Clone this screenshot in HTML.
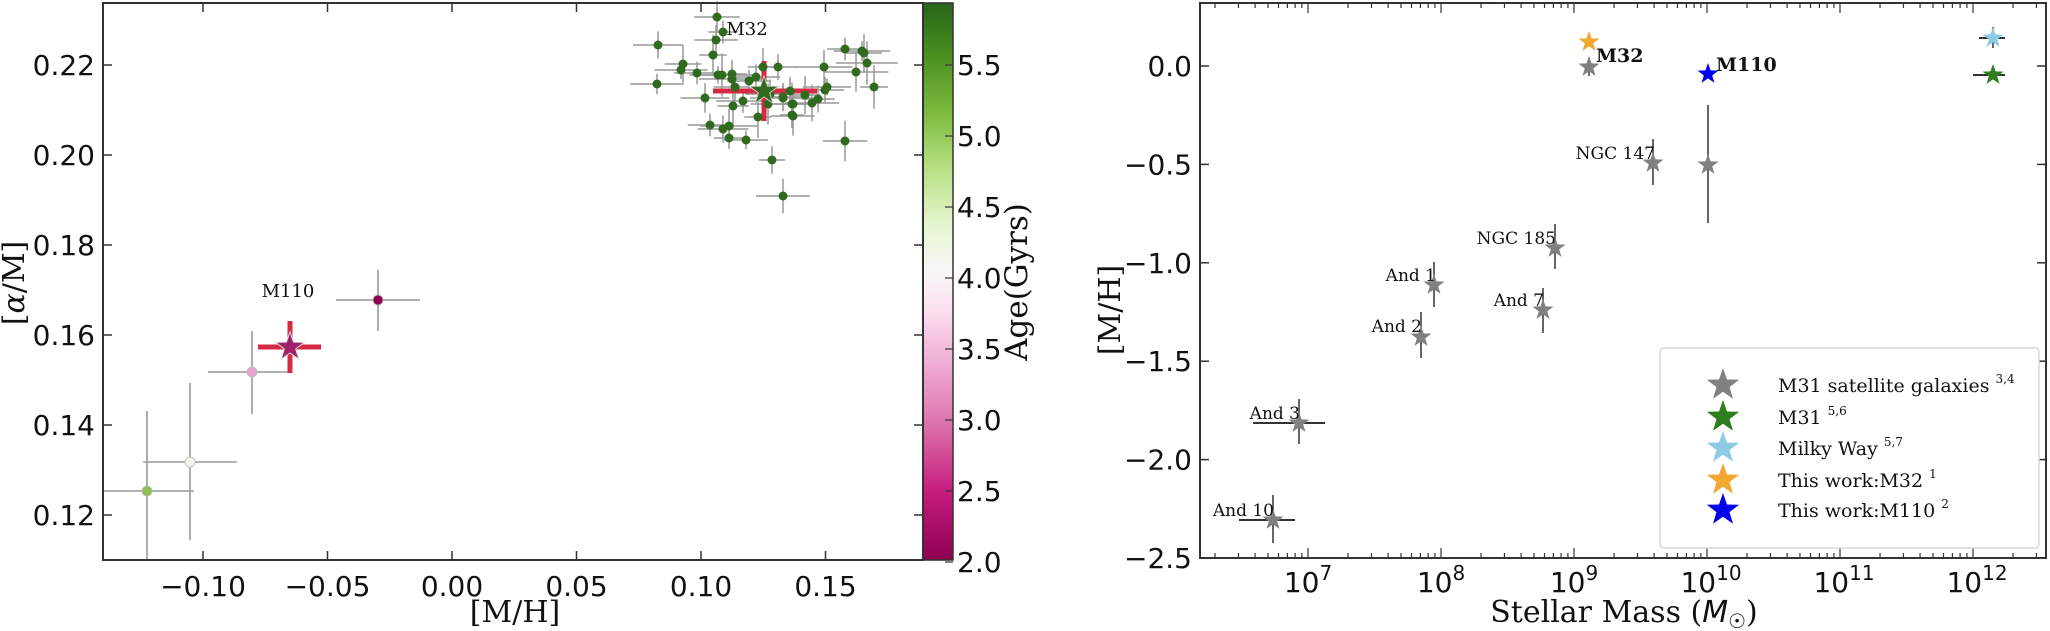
<!DOCTYPE html>
<html><head><meta charset="utf-8"><style>
html,body{margin:0;padding:0;background:#fff;}
svg{display:block}
.tk{font-family:"DejaVu Sans","Liberation Sans",sans-serif;font-size:28px;fill:#111}
.sf{font-family:"DejaVu Serif","Liberation Serif",serif;fill:#111}
</style></head><body>
<svg id="s" width="2050" height="631" viewBox="0 0 2050 631" xmlns="http://www.w3.org/2000/svg">
<defs>
<linearGradient id="cb" x1="0" y1="1" x2="0" y2="0">
<stop offset="0" stop-color="#8e0152"/>
<stop offset="0.12" stop-color="#c51b7d"/>
<stop offset="0.25" stop-color="#de77ae"/>
<stop offset="0.37" stop-color="#f1b6da"/>
<stop offset="0.45" stop-color="#fde0ef"/>
<stop offset="0.52" stop-color="#f7f7f7"/>
<stop offset="0.6" stop-color="#e6f5d0"/>
<stop offset="0.7" stop-color="#b8e186"/>
<stop offset="0.8" stop-color="#7fbc41"/>
<stop offset="0.9" stop-color="#4d9221"/>
<stop offset="1" stop-color="#276419"/>
</linearGradient>
</defs>
<g id="g"></g>
<text class="sf" x="515" y="622" font-size="30" text-anchor="middle">[M/H]</text>
<text class="sf" font-size="30" text-anchor="middle" transform="translate(24,283) rotate(-90)">[<tspan font-style="italic">α</tspan>/M]</text>
<text class="sf" font-size="31" text-anchor="middle" transform="translate(1027,282) rotate(-90)">Age(Gyrs)</text>
<text class="sf" x="288" y="297" font-size="18" text-anchor="middle">M110</text>
<text class="sf" x="747" y="35" font-size="18" text-anchor="middle">M32</text>
<text class="sf" font-size="30" text-anchor="middle" transform="translate(1120,310) rotate(-90)">[M/H]</text>
<text class="sf" x="1624" y="622" font-size="30" text-anchor="middle">Stellar Mass (<tspan font-style="italic" font-family="DejaVu Sans">M</tspan><tspan font-size="20" dy="6">☉</tspan><tspan dy="-6">)</tspan></text>
<text class="sf" x="1596" y="62" font-size="19" font-weight="bold">M32</text>
<text class="sf" x="1716" y="71" font-size="19" font-weight="bold">M110</text>
<g class="sf" font-size="17" text-anchor="end">
<text x="1655" y="159">NGC 147</text>
<text x="1556" y="244">NGC 185</text>
<text x="1436" y="281">And 1</text>
<text x="1544" y="306">And 7</text>
<text x="1422" y="332">And 2</text>
<text x="1300" y="419">And 3</text>
<text x="1274" y="516">And 10</text>
</g>
</svg>
<script>
var g=document.getElementById('g'),NS='http://www.w3.org/2000/svg';
function el(t,a){var e=document.createElementNS(NS,t);for(var k in a)e.setAttribute(k,a[k]);g.appendChild(e);return e;}
function line(x1,y1,x2,y2,c,w){el('line',{x1:x1,y1:y1,x2:x2,y2:y2,stroke:c,'stroke-width':w});}
function star(x,y,r,c,st){var p=[];for(var i=0;i<10;i++){var a=-Math.PI/2+i*Math.PI/5,rr=i%2?r*0.4:r;p.push((x+rr*Math.cos(a)).toFixed(1)+','+(y+rr*Math.sin(a)).toFixed(1));}
 el('polygon',{points:p.join(' '),fill:c,stroke:st||'none','stroke-width':1});}
function txt(x,y,s,cls,anc){var e=el('text',{x:x,y:y,'class':cls,'text-anchor':anc||'middle'});e.textContent=s;return e;}
var L=103,R=923,T=3,B=560;
function lx(v){return 452+v*2490;} function ly(v){return 515-(v-0.12)*4500;}
el('rect',{x:L,y:T,width:R-L,height:B-T,fill:'#fff'});
el('rect',{x:923,y:T,width:30,height:B-T,fill:'url(#cb)',stroke:'#333','stroke-width':1.5});
for(var a=2;a<=5.51;a+=0.5){var yy=562-(a-2)*(497/3.5);txt(957,yy+10,a.toFixed(1),'tk','start');line(945,yy,953,yy,'#333',1.2);}
var lp=[[378,300,336,420,270,331,'#8e0152'],[252,372,208,289,331,414,'#e9a3cf'],[190,462,143,237,383,540,'#f4f6ee'],[147,491,103,194,411,560,'#8cc152']];
lp.forEach(function(p){line(p[2],p[1],p[3],p[1],'#999',1.6);line(p[0],p[4],p[0],p[5],'#999',1.6);});
var cl=[[717,17],[723,32],[716,40],[713,55],[658,45],[683,64],[681,70],[697,73],[657,84],[705,98],[718,75],[722,75],[732,74],[732,79],[735,87],[743,101],[733,106],[749,81],[756,77],[763,67],[778,67],[758,117],[768,104],[710,125],[723,129],[729,126],[729,138],[746,140],[772,160],[783,196],[783,98],[793,104],[793,116],[790,91],[845,49],[862,51],[864,53],[867,63],[856,72],[824,67],[827,87],[825,90],[818,99],[812,103],[792,104],[792,115],[783,97],[874,87],[845,141],[770,94],[805,95]];
var sd=7;function rnd(){sd=(sd*9301+49297)%233280;return sd/233280;}
cl.forEach(function(p){var h=12+rnd()*22,v=8+rnd()*14;line(p[0]-h,p[1],p[0]+h,p[1],'#999',1.5);line(p[0],p[1]-v,p[0],p[1]+v,'#999',1.5);});
line(713,91,817,91,'#d62a42',5);line(764,61,764,121,'#d62a42',5);
line(258,347,321,347,'#d62a42',5);line(290,321,290,373,'#d62a42',5);
cl.forEach(function(p){el('circle',{cx:p[0],cy:p[1],r:4.5,fill:'#2f6a1f'});});
lp.forEach(function(p){el('circle',{cx:p[0],cy:p[1],r:5,fill:p[6],stroke:'#bbb','stroke-width':0.8});});
star(764,91,15,'#2f6a1f','#ccc');star(290,347,15,'#a0206a','#ddd');
el('rect',{x:L,y:T,width:R-L,height:B-T,fill:'none',stroke:'#333','stroke-width':2});
[-0.1,-0.05,0,0.05,0.1,0.15].forEach(function(v){var x=lx(v);line(x,B,x,B-9,'#333',1.5);line(x,T,x,T+9,'#333',1.5);
 txt(x,B+36,(v<0?'\u2212':'')+Math.abs(v).toFixed(2),'tk');});
[0.12,0.14,0.16,0.18,0.20,0.22].forEach(function(v){var y=ly(v);line(L,y,L+9,y,'#333',1.5);line(R,y,R-9,y,'#333',1.5);
 txt(L-8,y+10,v.toFixed(2),'tk','end');});
var L2=1200,R2=2046,T2=3,B2=558;
function rx(l){return 1308+(l-7)*133;} function ry(v){return 66-v*196.8;}
el('rect',{x:L2,y:T2,width:R2-L2,height:B2-T2,fill:'none',stroke:'#333','stroke-width':2});
for(var d=6;d<=12;d++){for(var m=1;m<10;m++){var x=rx(d+Math.log10(m));if(x<=L2||x>=R2)continue;var len=m==1?10:5;
 line(x,B2,x,B2-len,'#333',1.2);line(x,T2,x,T2+len,'#333',1.2);}
 if(d>=7){var t=el('text',{x:rx(d)+(d>=10?4:0),y:B2+34,'class':'tk','text-anchor':'middle'});t.appendChild(document.createTextNode('10'));
  var sp=document.createElementNS(NS,'tspan');sp.setAttribute('font-size','20');sp.setAttribute('dy','-12');sp.textContent=String(d);t.appendChild(sp);}}
for(var v=0;v>=-2.5;v-=0.5){var y=ry(v);line(L2,y,L2+9,y,'#333',1.5);line(R2,y,R2-9,y,'#333',1.5);
 txt(L2-8,y+10,(v<0?'\u2212':'')+Math.abs(v).toFixed(1),'tk','end');}
var gp=[[1589,67,0,0,58,76],[1708,165,0,0,105,223],[1653,163,0,0,139,185],[1555,248,0,0,224,269],[1434,285,0,0,262,307],[1543,310,0,0,288,333],[1421,337,0,0,312,358],[1299,423,1253,1325,399,444],[1273,520,1239,1295,495,543]];
gp.forEach(function(p){if(p[2])line(p[2],p[1],p[3],p[1],'#333',2);line(p[0],p[4],p[0],p[5],'#333',1.5);star(p[0],p[1],11,'#808080');});
line(1979,38,2005,38,'#333',2);line(1993,27,1993,48,'#333',1.5);star(1993,38,11,'#8ecae6');
line(1973,75,2005,75,'#333',2);star(1993,75,11,'#2e7d1f');
star(1589,42,11,'#f0a830');star(1708,74,11,'#0000ee');
el('rect',{x:1660,y:348,width:379,height:200,rx:4,fill:'#fff',stroke:'#d8d8d8','stroke-width':1.5});
var lg=[['#808080','M31 satellite galaxies','3,4'],['#2e7d1f','M31','5,6'],['#8ecae6','Milky Way','5,7'],['#f0a830','This work:M32 ','1'],['#0000ee','This work:M110','2']];
var ys=[385,417,448,480,510];
lg.forEach(function(e,i){star(1723,ys[i],17,e[0]);var t=el('text',{x:1778,y:ys[i]+7,'class':'sf','font-size':'19'});t.textContent=e[1]+' ';
 var s=document.createElementNS(NS,'tspan');s.setAttribute('font-size','12');s.setAttribute('dy','-9');s.textContent=e[2];t.appendChild(s);});
</script>
</body></html>
